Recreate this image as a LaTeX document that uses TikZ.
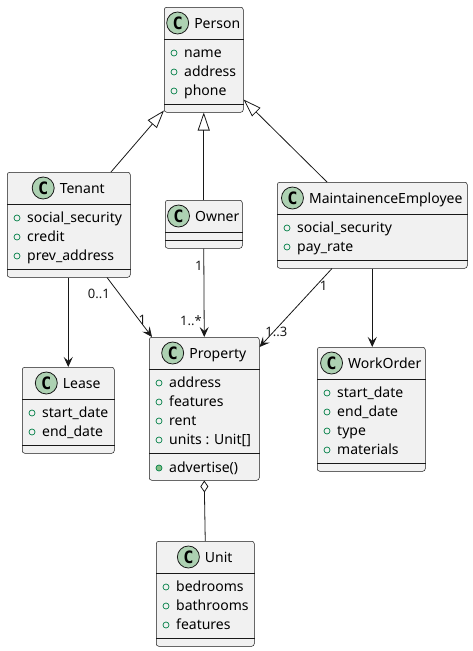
\documentclass[tikz,border=0pt]{standalone}
\usepackage{fontspec}
\setmainfont{Noto Sans}
\newfontfamily\badgefont{DejaVu Sans Mono}
\usetikzlibrary{positioning,calc,arrows.meta}

\definecolor{umlfill}{HTML}{F1F1F1}
\definecolor{umlline}{HTML}{181818}
\definecolor{umlbadge}{HTML}{ADD1B2}
\definecolor{umlgreen}{HTML}{038048}
\definecolor{umlmethod}{HTML}{84BE84}

\tikzset{
  classbox/.style={draw=umlline, fill=umlfill, line width=0.5pt, rounded corners=2.5pt, anchor=north west, inner sep=0pt},
  classline/.style={draw=umlline, line width=0.5pt},
  classname/.style={inner sep=0pt, text height=10pt, text depth=0pt, font=\fontsize{14}{16}\selectfont},
  badge/.style={circle, draw=umlline, line width=0.8pt, fill=umlbadge, minimum size=22pt, inner sep=0pt, font=\badgefont\fontsize{17}{17}\selectfont\bfseries},
  member/.style={anchor=west, inner sep=0pt, text height=9pt, text depth=0pt, font=\fontsize{14}{16}\selectfont},
  field/.style={circle, draw=umlgreen, line width=0.7pt, minimum size=6pt, inner sep=0pt},
  method/.style={field, fill=umlmethod},
  inherit/.style={draw=umlline, line width=0.8pt, -{Triangle[open, length=18pt, width=12pt]}},
  assoc/.style={draw=umlline, line width=0.8pt, -{Stealth[length=10pt, width=9pt, inset=4pt]}},
  aggr/.style={draw=umlline, line width=0.8pt, -{Diamond[open, length=12pt, width=8pt]}},
  mult/.style={inner sep=0pt, font=\fontsize{13}{15}\selectfont, text=umlline},
}

% #1 node, #2 x, #3 y, #4 width, #5 title, #6 no. of fields, #7 fields, #8 no. of methods, #9 methods
\newcommand{\umlclass}[9]{%
  \pgfmathsetmacro{\fieldh}{#6>0 ? 19*#6+8 : 8}%
  \pgfmathsetmacro{\methh}{#8>0 ? 19*#8+8 : 8}%
  \pgfmathsetmacro{\clsh}{32+\fieldh+\methh}%
  \pgfmathsetmacro{\divy}{32+\fieldh}%
  \node[classbox, minimum width=#4pt, minimum height=\clsh pt] (#1) at (#2,#3) {};
  \draw[classline] ([shift={(0,32)}]#1.north west) -- ([shift={(0,32)}]#1.north east);
  \draw[classline] ([shift={(0,\divy)}]#1.north west) -- ([shift={(0,\divy)}]#1.north east);
  \node[classname] (#1-title) at ([shift={(13.5,16)}]#1.north) {#5};
  \node[badge, left=5pt of #1-title] (#1-badge) {C};
  \ifnum#6>0
    \foreach \fld [count=\i] in {#7} {
      \pgfmathsetmacro{\rowy}{46+19*(\i-1)}
      \node[field] (#1-f\i) at ([shift={(10,\rowy)}]#1.north west) {};
      \node[member] (#1-ft\i) at ([shift={(20,\rowy)}]#1.north west) {\fld};
    }
  \fi
  \ifnum#8>0
    \foreach \fld [count=\i] in {#9} {
      \pgfmathsetmacro{\rowy}{\divy+15+19*(\i-1)}
      \node[method] (#1-m\i) at ([shift={(10,\rowy)}]#1.north west) {};
      \node[member] (#1-mt\i) at ([shift={(20,\rowy)}]#1.north west) {\fld};
    }
  \fi
}

\begin{document}
\begin{tikzpicture}[x=1pt, y=-1pt]
  \useasboundingbox (0,0) rectangle (472,651);

  % classes
  \umlclass{person}{164}{7}{79}{Person}{3}{name,address,phone}{0}{}
  \umlclass{tenant}{7}{172}{123}{Tenant}{3}{social\_security,credit,prev\_address}{0}{}
  \umlclass{owner}{165}{200}{77}{Owner}{0}{}{0}{}
  \umlclass{me}{277}{182}{190}{MaintainenceEmployee}{2}{social\_security,pay\_rate}{0}{}
  \umlclass{property}{149}{337}{110}{Property}{4}{address,features,rent,units : Unit[]}{1}{advertise()}
  \umlclass{lease}{22}{367}{92}{Lease}{2}{start\_date,end\_date}{0}{}
  \umlclass{workorder}{317}{347}{108}{WorkOrder}{4}{start\_date,end\_date,type,materials}{0}{}
  \umlclass{unit}{156}{541}{98}{Unit}{3}{bedrooms,bathrooms,features}{0}{}

  % inheritance
  \draw[inherit] ([shift={(104,0)}]tenant.north west) -- ([shift={(0,-2)}]person.south west);
  \draw[inherit] (owner.north) -- (person.south);
  \draw[inherit] ([shift={(50,0)}]me.north west) -- ([shift={(0,-13)}]person.south east);

  % associations
  \draw[assoc] (tenant.south -| lease.north) -- (lease.north);
  \draw[assoc] ([shift={(100,0)}]tenant.south west) --
    node[mult, pos=0.27, anchor=east, xshift=-9pt] (tenant-mult) {0..1}
    node[mult, pos=0.72, xshift=3pt] (tprop-mult) {1}
    ([shift={(3,0)}]property.north west);
  \draw[assoc] (owner.south) --
    node[mult, pos=0.2, anchor=east, xshift=-1pt] (owner-mult) {1}
    node[mult, pos=0.82, anchor=east, xshift=-2pt] (oprop-mult) {1..*}
    (property.north);
  \draw[assoc] ([shift={(55,0)}]me.south west) --
    node[mult, pos=0.215, anchor=west, xshift=3pt] (me-mult) {1}
    node[mult, pos=0.81, xshift=3pt] (mprop-mult) {1..3}
    ([shift={(0,10)}]property.north east);
  \draw[assoc] (me.south) -- (me.south |- workorder.north);

  % aggregation
  \draw[aggr] (unit.north) -- (property.south);
\end{tikzpicture}
\end{document}
